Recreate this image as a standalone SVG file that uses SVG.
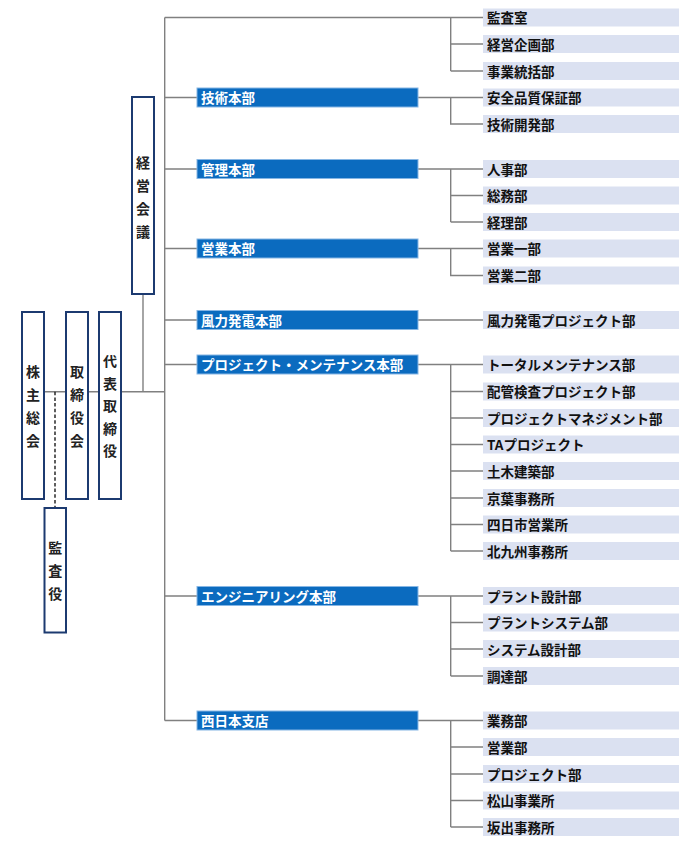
<svg xmlns="http://www.w3.org/2000/svg" width="679" height="855" viewBox="0 0 679 855">
<style>
text{font-family:"Noto Sans CJK JP","Noto Sans",sans-serif;font-weight:700;dominant-baseline:central}
.org{fill:#fff;stroke:#1c3a70;stroke-width:2}
.vt{font-size:14px;fill:#222;text-anchor:middle}
.hq{fill:#0b6bbf;stroke:#86b6e4;stroke-width:1}
.hqt{font-size:13.5px;fill:#fff}
.dp{fill:#dbe1f1}
.dpt{font-size:13.5px;fill:#111}
.ln{stroke:#808080;stroke-width:1.4;fill:none}
</style>
<g id="connectors">
<path class="ln" d="M44 391.7H66M88 391.7H99M121 391.7H164.7M143 294V391.7"/>
<path d="M55 391.7V508" stroke="#1a1a1a" stroke-width="1.4" stroke-dasharray="3.5,2.2" fill="none"/>
<path class="ln" d="M164.7 17.5V720.5M164.7 17.5H483M164.7 97.5H197M164.7 169H197M164.7 248.5H197M164.7 320H197M164.7 364.5H197M164.7 596H197M164.7 720.5H197"/>
<path class="ln" d="M450.7 17.5V71M450.7 44H483M450.7 71H483"/>
<path class="ln" d="M418 97.5H483M450.7 97.5V124H483"/>
<path class="ln" d="M418 169H483M450.7 169V222M450.7 195.5H483M450.7 222H483"/>
<path class="ln" d="M418 248.5H483M450.7 248.5V275.5H483"/>
<path class="ln" d="M418 320H483"/>
<path class="ln" d="M418 364.5H483M450.7 364.5V551M450.7 391.5H483M450.7 418H483M450.7 444.5H483M450.7 471H483M450.7 498H483M450.7 524.5H483M450.7 551H483"/>
<path class="ln" d="M418 596H483M450.7 596V676M450.7 622.5H483M450.7 649H483M450.7 676H483"/>
<path class="ln" d="M418 720.5H483M450.7 720.5V827M450.7 747H483M450.7 774H483M450.7 800.5H483M450.7 827H483"/>
</g>
<g id="kabunushi-sokai"><rect class="org" x="22" y="312" width="22" height="187"/>
<text class="vt" x="33" y="370.5">株</text><text class="vt" x="33" y="393.5">主</text><text class="vt" x="33" y="416.5">総</text><text class="vt" x="33" y="439.5">会</text></g>
<g id="torishimariyakukai"><rect class="org" x="66" y="312" width="22" height="187"/>
<text class="vt" x="77" y="370.5">取</text><text class="vt" x="77" y="393.5">締</text><text class="vt" x="77" y="416.5">役</text><text class="vt" x="77" y="439.5">会</text></g>
<g id="daihyo"><rect class="org" x="99" y="312" width="22" height="187"/>
<text class="vt" x="110" y="360">代</text><text class="vt" x="110" y="382.5">表</text><text class="vt" x="110" y="405">取</text><text class="vt" x="110" y="427.5">締</text><text class="vt" x="110" y="450">役</text></g>
<g id="kansayaku"><rect class="org" x="44.5" y="508" width="21.5" height="124.5"/>
<text class="vt" x="55.2" y="547">監</text><text class="vt" x="55.2" y="570">査</text><text class="vt" x="55.2" y="593">役</text></g>
<g id="keiei-kaigi"><rect class="org" x="132" y="97" width="22" height="197"/>
<text class="vt" x="143" y="161.5">経</text><text class="vt" x="143" y="184.5">営</text><text class="vt" x="143" y="207.5">会</text><text class="vt" x="143" y="230.5">議</text></g>
<g id="hq-gijutsu"><rect class="hq" x="197" y="88" width="221" height="19"/><text class="hqt" x="201" y="97">技術本部</text></g>
<g id="hq-kanri"><rect class="hq" x="197" y="159.5" width="221" height="19"/><text class="hqt" x="201" y="168.5">管理本部</text></g>
<g id="hq-eigyo"><rect class="hq" x="197" y="239" width="221" height="19"/><text class="hqt" x="201" y="248">営業本部</text></g>
<g id="hq-furyoku"><rect class="hq" x="197" y="310.5" width="221" height="19"/><text class="hqt" x="201" y="319.5">風力発電本部</text></g>
<g id="hq-pm"><rect class="hq" x="197" y="355" width="221" height="19"/><text class="hqt" x="201" y="364">プロジェクト・メンテナンス本部</text></g>
<g id="hq-eng"><rect class="hq" x="197" y="586.5" width="221" height="19"/><text class="hqt" x="201" y="595.5">エンジニアリング本部</text></g>
<g id="hq-nishinihon"><rect class="hq" x="197" y="711" width="221" height="19"/><text class="hqt" x="201" y="720">西日本支店</text></g>
<g id="d1"><rect class="dp" x="483" y="8.5" width="196" height="18"/><text class="dpt" x="487" y="17">監査室</text></g>
<g id="d2"><rect class="dp" x="483" y="35" width="196" height="18"/><text class="dpt" x="487" y="43.5">経営企画部</text></g>
<g id="d3"><rect class="dp" x="483" y="62" width="196" height="18"/><text class="dpt" x="487" y="70.5">事業統括部</text></g>
<g id="d4"><rect class="dp" x="483" y="88.5" width="196" height="18"/><text class="dpt" x="487" y="97">安全品質保証部</text></g>
<g id="d5"><rect class="dp" x="483" y="115" width="196" height="18"/><text class="dpt" x="487" y="123.5">技術開発部</text></g>
<g id="d6"><rect class="dp" x="483" y="160" width="196" height="18"/><text class="dpt" x="487" y="168.5">人事部</text></g>
<g id="d7"><rect class="dp" x="483" y="186.5" width="196" height="18"/><text class="dpt" x="487" y="195">総務部</text></g>
<g id="d8"><rect class="dp" x="483" y="213" width="196" height="18"/><text class="dpt" x="487" y="221.5">経理部</text></g>
<g id="d9"><rect class="dp" x="483" y="239.5" width="196" height="18"/><text class="dpt" x="487" y="248">営業一部</text></g>
<g id="d10"><rect class="dp" x="483" y="266.5" width="196" height="18"/><text class="dpt" x="487" y="275">営業二部</text></g>
<g id="d11"><rect class="dp" x="483" y="311" width="196" height="18"/><text class="dpt" x="487" y="319.5">風力発電プロジェクト部</text></g>
<g id="d12"><rect class="dp" x="483" y="355.5" width="196" height="18"/><text class="dpt" x="487" y="364">トータルメンテナンス部</text></g>
<g id="d13"><rect class="dp" x="483" y="382.5" width="196" height="18"/><text class="dpt" x="487" y="391">配管検査プロジェクト部</text></g>
<g id="d14"><rect class="dp" x="483" y="409" width="196" height="18"/><text class="dpt" x="487" y="417.5">プロジェクトマネジメント部</text></g>
<g id="d15"><rect class="dp" x="483" y="435.5" width="196" height="18"/><text class="dpt" x="487" y="444">TAプロジェクト</text></g>
<g id="d16"><rect class="dp" x="483" y="462" width="196" height="18"/><text class="dpt" x="487" y="470.5">土木建築部</text></g>
<g id="d17"><rect class="dp" x="483" y="489" width="196" height="18"/><text class="dpt" x="487" y="497.5">京葉事務所</text></g>
<g id="d18"><rect class="dp" x="483" y="515.5" width="196" height="18"/><text class="dpt" x="487" y="524">四日市営業所</text></g>
<g id="d19"><rect class="dp" x="483" y="542" width="196" height="18"/><text class="dpt" x="487" y="550.5">北九州事務所</text></g>
<g id="d20"><rect class="dp" x="483" y="587" width="196" height="18"/><text class="dpt" x="487" y="595.5">プラント設計部</text></g>
<g id="d21"><rect class="dp" x="483" y="613.5" width="196" height="18"/><text class="dpt" x="487" y="622">プラントシステム部</text></g>
<g id="d22"><rect class="dp" x="483" y="640" width="196" height="18"/><text class="dpt" x="487" y="648.5">システム設計部</text></g>
<g id="d23"><rect class="dp" x="483" y="667" width="196" height="18"/><text class="dpt" x="487" y="675.5">調達部</text></g>
<g id="d24"><rect class="dp" x="483" y="711.5" width="196" height="18"/><text class="dpt" x="487" y="720">業務部</text></g>
<g id="d25"><rect class="dp" x="483" y="738" width="196" height="18"/><text class="dpt" x="487" y="746.5">営業部</text></g>
<g id="d26"><rect class="dp" x="483" y="765" width="196" height="18"/><text class="dpt" x="487" y="773.5">プロジェクト部</text></g>
<g id="d27"><rect class="dp" x="483" y="791.5" width="196" height="18"/><text class="dpt" x="487" y="800">松山事業所</text></g>
<g id="d28"><rect class="dp" x="483" y="818" width="196" height="18"/><text class="dpt" x="487" y="826.5">坂出事務所</text></g>
</svg>
